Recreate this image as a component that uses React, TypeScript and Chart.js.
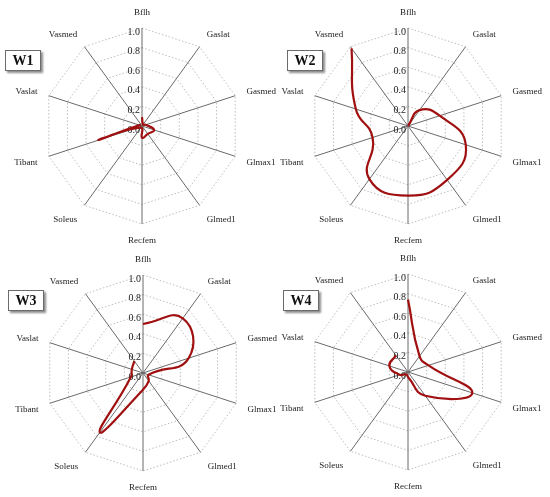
import React, { useEffect, useRef } from 'react';
import { Chart, registerables } from 'chart.js';

Chart.register(...registerables);

// ---- data ----
const muscles = ['Bflh', 'Gaslat', 'Gasmed', 'Glmax1', 'Glmed1', 'Recfem', 'Soleus', 'Tibant', 'Vaslat', 'Vasmed'];
const tickValues = [0, 0.2, 0.4, 0.6, 0.8, 1.0];
const tickLabels = ['0.0', '0.2', '0.4', '0.6', '0.8', '1.0'];
const w1Values = [0.09, 0.02, 0.04, 0.13, 0.1, 0.12, 0.02, 0.47, 0.03, 0.02];
const w2Values = [0.0, 0.2, 0.34, 0.62, 0.68, 0.71, 0.67, 0.38, 0.56, 0.98];
const w3Values = [0.5, 0.69, 0.49, 0.06, 0.1, 0.17, 0.75, 0.13, 0.12, 0.15];
const w4Values = [0.74, 0.2, 0.22, 0.69, 0.3, 0.05, 0.03, 0.09, 0.2, 0.21];
const panelTitles = ['W1', 'W2', 'W3', 'W4'];

const FONT = '"Liberation Serif", "DejaVu Serif", serif';
const PAGE_W = 550;
const PAGE_H = 497;
const RADIUS = 98;

const openLinePlugin = {
  id: 'openLine',
  afterDatasetsUpdate(chart: any) {
    chart.data.datasets.forEach((_: any, i: number) => {
      const line: any = chart.getDatasetMeta(i).dataset;
      if (line) {
        line._loop = false;
        line._fullLoop = false;
        line._pointsUpdated = false;
        delete line._segments;
        line._path = undefined;
      }
    });
  },
};

const labelsPlugin = {
  id: 'radarLabels',
  beforeDatasetsDraw(chart: any) {
    const scale = chart.scales.r;
    const ctx = chart.ctx;
    ctx.save();
    ctx.fillStyle = '#222';
    ctx.font = '10px ' + FONT;
    ctx.textAlign = 'right';
    ctx.textBaseline = 'middle';
    tickValues.forEach((v, i) => {
      const p = scale.getPointPositionForValue(0, v);
      ctx.fillText(tickLabels[i], p.x - 2, p.y + 4);
    });
    ctx.font = '9px ' + FONT;
    muscles.forEach((name, i) => {
      const p = scale.getPointPosition(i, scale.drawingArea + 12);
      const dx = p.x - scale.xCenter;
      const dy = p.y - scale.yCenter;
      const d = Math.hypot(dx, dy) || 1;
      const cos = -dy / d;
      const sin = dx / d;
      ctx.textAlign = Math.abs(sin) < 0.05 ? 'center' : sin > 0 ? 'left' : 'right';
      ctx.fillText(name, p.x, p.y - 4 * cos + 1);
    });
    ctx.restore();
  },
};

type PanelProps = {
  values: number[];
  title: string;
  cx: number;
  cy: number;
  box: { left: number; top: number };
};

function RadarPanel({ values, title, cx, cy, box }: PanelProps) {
  const ref = useRef<HTMLCanvasElement>(null);
  useEffect(() => {
    if (!ref.current) return;
    const pad = {
      left: cx - RADIUS,
      right: PAGE_W - cx - RADIUS,
      top: cy - RADIUS,
      bottom: PAGE_H - cy - RADIUS,
    };
    const chart = new Chart(ref.current, {
      type: 'radar',
      data: {
        labels: muscles,
        datasets: [
          {
            data: values,
            borderColor: '#a01010',
            backgroundColor: 'rgba(0,0,0,0)',
            borderWidth: 2.2,
            fill: false,
            pointRadius: 0,
            pointHoverRadius: 0,
            tension: 0.5,
            clip: false,
          } as any,
        ],
      },
      options: {
        responsive: false,
        animation: false,
        events: [],
        layout: { padding: pad },
        elements: { line: { capBezierPoints: false } },
        plugins: { legend: { display: false }, tooltip: { enabled: false } },
        scales: {
          r: {
            min: 0,
            max: 1,
            ticks: { display: false, stepSize: 0.2 },
            pointLabels: { display: false },
            grid: { color: '#bdbdbd', lineWidth: 1 },
            border: { dash: [1.5, 2] },
            angleLines: { color: '#6a6a6a', lineWidth: 1 },
          } as any,
        },
      },
      plugins: [openLinePlugin, labelsPlugin],
    });
    return () => chart.destroy();
  }, []);
  return (
    <>
      <canvas
        ref={ref}
        width={PAGE_W}
        height={PAGE_H}
        style={{ position: 'absolute', left: 0, top: 0, width: PAGE_W, height: PAGE_H }}
      />
      <div
        style={{
          position: 'absolute',
          left: box.left,
          top: box.top,
          width: 34,
          height: 19,
          border: '1px solid #6b6b6b',
          boxShadow: '2px 2px 2px rgba(0,0,0,0.45)',
          background: '#fff',
          fontFamily: FONT,
          fontWeight: 'bold',
          fontSize: 14,
          lineHeight: '19px',
          textAlign: 'center',
          color: '#111',
        }}
      >
        {title}
      </div>
    </>
  );
}

export default function App() {
  return (
    <div style={{ position: 'absolute', left: 0, top: 0, width: PAGE_W, height: PAGE_H, background: '#fff', overflow: 'hidden' }}>
      <RadarPanel values={w1Values} title={panelTitles[0]} cx={142} cy={126} box={{ left: 5, top: 50 }} />
      <RadarPanel values={w2Values} title={panelTitles[1]} cx={408} cy={126} box={{ left: 287, top: 50 }} />
      <RadarPanel values={w3Values} title={panelTitles[2]} cx={143} cy={373} box={{ left: 8, top: 290 }} />
      <RadarPanel values={w4Values} title={panelTitles[3]} cx={408} cy={372} box={{ left: 283, top: 290 }} />
    </div>
  );
}
